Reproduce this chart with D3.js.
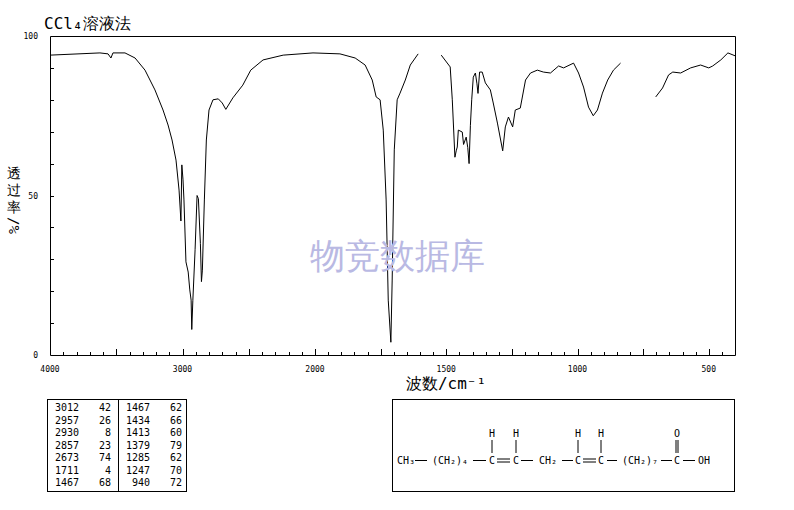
<!DOCTYPE html>
<html><head><meta charset="utf-8">
<script src="https://cdn.jsdelivr.net/npm/d3@7"></script>
<style>body{margin:0;background:#fff}svg{display:block}text{font-family:"DejaVu Sans Mono",monospace}</style>
</head><body><svg id="c" width="794" height="510"></svg>
<script>
// Spectrum segments: [wavenumber, %T]
const seg1=[[4000,94],[3623,94.7],[3562,94.4],[3540,93.1],[3525,94.7],[3434,94.7],[3358,93.1],[3283,89.3],[3208,83.1],[3147,76.8],[3109,72.1],[3079,67.4],[3049,61.1],[3026,51.7],[3012,42],[3005,59.6],[2996,54.9],[2989,48.6],[2974,29.2],[2957,26],[2945,20.4],[2935,17.2],[2930,8],[2922,17],[2905,33],[2890,50],[2880,49],[2865,35],[2857,23],[2850,26.6],[2835,48.6],[2820,67.4],[2800,76.8],[2770,80],[2730,80.3],[2700,79],[2673,77],[2620,80.6],[2545,84.6],[2485,89.3],[2392,92.5],[2240,94],[2015,94.7],[1905,94.4],[1847,93.1],[1809,90.9],[1782,86.2],[1767,80.9],[1752,80],[1740,70.5],[1729,48.6],[1721,17.2],[1711,4],[1706,23.5],[1698,64.3],[1687,80],[1676,82.1],[1656,86.2],[1637,90.9],[1607,94.4]];
const seg2=[[1519,94],[1485,90.3],[1477,80],[1467,62],[1462,64],[1458,65.2],[1454,70.5],[1439,69.9],[1434,66],[1424,68.3],[1418,65],[1413,60],[1408,72],[1403,80],[1397,87.1],[1389,88.4],[1383,85],[1379,82],[1373,88.7],[1363,88.7],[1351,85.3],[1332,83.1],[1321,79],[1305,72.7],[1285,64],[1275,71.5],[1263,74.6],[1247,71.5],[1237,76.8],[1218,77.4],[1198,86.2],[1179,88.4],[1153,89.3],[1130,88.7],[1103,88.4],[1072,90.6],[1053,90],[1015,91.5],[996,88.4],[977,84],[958,77.7],[940,75],[924,76.8],[905,82.1],[885,86.2],[863,89.3],[836,91.5]];
const seg3=[[702,80.9],[676,83.7],[653,87.8],[637,88.7],[607,88.4],[569,90],[531,90.9],[500,90],[485,90.6],[454,92.5],[427,94.7],[400,93.8]];
const xTickLabels=[4000,3000,2000,1500,1000,500];
const yTickLabels=[0,50,100];
const peakWn=[3012,2957,2930,2857,2673,1711,1467,1467,1434,1413,1379,1285,1247,940];
const peakT=[42,26,8,23,74,4,68,62,66,60,79,62,70,72];

const svg=d3.select("#c");
const x=d3.scaleLinear().domain([4000,2000,400]).range([50,315,735]);
const y=d3.scaleLinear().domain([0,100]).range([355,36]);

svg.append("path").attr("d",`M${x(4000)+.5},${y(0)+.5}V${y(100)+.5}H${x(400)+.5}V${y(0)+.5}Z`).attr("fill","none").attr("stroke","#000");
const minor=[];
for(let w=4000;w>=2000;w-=100)minor.push([w,w%500===0?6:3]);
for(let w=1950;w>=400;w-=50)minor.push([w,w%250===0?6:3]);
svg.selectAll(".xt").data(minor).join("line").attr("x1",d=>Math.round(x(d[0]))+.5).attr("x2",d=>Math.round(x(d[0]))+.5)
 .attr("y1",y(0)).attr("y2",d=>y(0)-d[1]).attr("stroke","#000");
svg.selectAll(".xl").data(xTickLabels).join("text").attr("x",d=>x(d)).attr("y",372).attr("text-anchor","middle")
 .attr("font-size",8).text(d=>d);
svg.selectAll(".yt").data(d3.range(10,100,10)).join("line").attr("x1",x(4000)).attr("x2",x(4000)+4)
 .attr("y1",d=>Math.round(y(d))+.5).attr("y2",d=>Math.round(y(d))+.5).attr("stroke","#000");
svg.selectAll(".yl").data(yTickLabels).join("text").attr("x",38).attr("y",d=>y(d)+3).attr("text-anchor","end")
 .attr("font-size",8).text(d=>d);

const line=d3.line().x(d=>x(d[0])).y(d=>y(d[1]));
[seg1,seg2,seg3].forEach(s=>svg.append("path").attr("d",line(s)).attr("fill","none").attr("stroke","#000").attr("stroke-width",1));

const cjk="Noto Sans CJK SC";
svg.append("text").attr("x",44).attr("y",29).attr("font-size",16).attr("font-family","Liberation Serif, serif").text("CCl₄溶液法");
svg.append("text").attr("x",446).attr("y",389).attr("text-anchor","middle").attr("font-size",16).attr("font-family",cjk).text("波数/cm⁻¹");
["透","过","率"].forEach((c,i)=>svg.append("text").attr("x",14).attr("y",178+i*17).attr("text-anchor","middle").attr("font-size",14).attr("font-family",cjk).text(c));
svg.append("text").attr("transform","translate(9,217) rotate(90)").attr("font-size",14).attr("font-family",cjk).text("/%");
svg.append("text").attr("x",397).attr("y",268).attr("text-anchor","middle").attr("font-size",35).attr("fill","#b9b9e3").attr("font-family",cjk).text("物竞数据库");

svg.append("rect").attr("x",47.5).attr("y",399.5).attr("width",139).attr("height",92).attr("fill","none").attr("stroke","#000");
svg.append("line").attr("x1",118.5).attr("x2",118.5).attr("y1",399.5).attr("y2",491.5).attr("stroke","#000");
peakWn.forEach((w,i)=>{
  const col=i<7?0:1,row=i%7;
  const bx=col?118:47, ty=411+row*12.5;
  svg.append("text").attr("x",bx+32).attr("y",ty).attr("text-anchor","end").attr("font-size",10).text(w);
  svg.append("text").attr("x",bx+64).attr("y",ty).attr("text-anchor","end").attr("font-size",10).text(peakT[i]);
});

svg.append("rect").attr("x",392.5).attr("y",399.5).attr("width",342).attr("height",92).attr("fill","none").attr("stroke","#000");
const g=svg.append("g").attr("font-size",10);
const T=(tx,ty,s)=>g.append("text").attr("x",tx).attr("y",ty).attr("text-anchor","middle").text(s);
const L=(a,b,c,d)=>g.append("line").attr("x1",a).attr("y1",b).attr("x2",c).attr("y2",d).attr("stroke","#000");
const by=464, ly=460.5;
T(406,by,"CH₃");L(415,ly,427,ly);T(450,by,"(CH₂)₄");L(473,ly,486,ly);
T(492,by,"C");L(497,ly-1.5,510,ly-1.5);L(497,ly+1.5,510,ly+1.5);T(516,by,"C");
L(521,ly,533,ly);T(548,by,"CH₂");L(562,ly,573,ly);
T(578,by,"C");L(583,ly-1.5,596,ly-1.5);L(583,ly+1.5,596,ly+1.5);T(601,by,"C");
L(607,ly,617,ly);T(640,by,"(CH₂)₇");L(661,ly,672,ly);T(677,by,"C");L(683,ly,695,ly);T(704,by,"OH");
[492,516,578,601].forEach(cx=>{T(cx,437,"H");L(cx,440,cx,453);});
T(677,437,"O");L(676,440,676,453);L(678,440,678,453);
</script></body></html>
